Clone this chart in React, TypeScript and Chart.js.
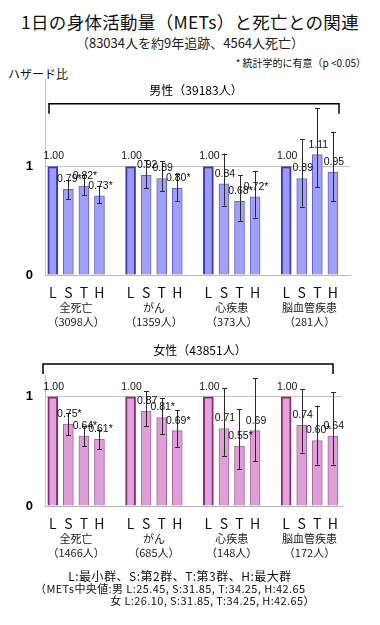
import React, { useEffect, useRef } from "react";
import { Chart, registerables } from "chart.js";
Chart.register(...registerables);

const tickLabels = ["L", "S", "T", "H"];
const causes = ["全死亡", "がん", "心疾患", "脳血管疾患"];

const menCounts = ["（3098人）", "（1359人）", "（373人）", "（281人）"];
const menHR = [1.0, 0.79, 0.82, 0.73, 1.0, 0.92, 0.89, 0.8, 1.0, 0.84, 0.68, 0.72, 1.0, 0.89, 1.11, 0.95];
const menLow = [null, 0.7, 0.74, 0.66, null, 0.8, 0.77, 0.68, null, 0.64, 0.5, 0.53, null, 0.63, 0.81, 0.68];
const menHigh = [null, 0.88, 0.92, 0.82, null, 1.06, 1.05, 0.93, null, 1.12, 0.92, 0.96, null, 1.25, 1.54, 1.32];
const menLabels = ["1.00", "0.79*", "0.82*", "0.73*", "1.00", "0.92", "0.89", "0.80*", "1.00", "0.84", "0.68*", "0.72*", "1.00", "0.89", "1.11", "0.95"];

const womenCounts = ["（1466人）", "（685人）", "（148人）", "（172人）"];
const womenHR = [1.0, 0.75, 0.64, 0.61, 1.0, 0.87, 0.81, 0.69, 1.0, 0.71, 0.55, 0.69, 1.0, 0.74, 0.6, 0.64];
const womenLow = [null, 0.65, 0.55, 0.52, null, 0.73, 0.66, 0.54, null, 0.46, 0.34, 0.41, null, 0.49, 0.38, 0.38];
const womenHigh = [null, 0.85, 0.73, 0.7, null, 1.05, 0.99, 0.88, null, 1.08, 0.89, 1.17, null, 1.07, 0.92, 1.04];
const womenLabels = ["1.00", "0.75*", "0.64*", "0.61*", "1.00", "0.87", "0.81*", "0.69*", "1.00", "0.71", "0.55*", "0.69", "1.00", "0.74", "0.60*", "0.64"];

const JP = "'Noto Sans CJK JP', 'Noto Sans', sans-serif";
const LAT = "'Liberation Sans', Arial, sans-serif";

type Spec = {
  hr: number[];
  low: (number | null)[];
  high: (number | null)[];
  labels: string[];
  counts: string[];
  fill: string;
  lFill: string;
  border: string;
  lBorder: string;
  yMax: number;
  xMax: number;
  padTop: number;
  padRight: number;
  xAxisH: number;
  title: string;
  titleX: number;
  titleDy: number;
  bracketDy: number;
  legLen: number;
  bracketL: number;
  bracketR: number;
};

function xPos(i: number) {
  return Math.floor(i / 4) * 5 + (i % 4);
}

function build(canvas: HTMLCanvasElement, s: Spec) {
  const pts = s.hr.map((v, i) => ({ x: xPos(i), y: v }));
  const tickVals = s.hr.map((_, i) => xPos(i));
  const deco = {
    id: "deco",
    afterDatasetsDraw(chart: any) {
      const ctx = chart.ctx;
      const xs = chart.scales.x;
      const ys = chart.scales.y;
      const ca = chart.chartArea;
      ctx.save();
      // error bars
      ctx.strokeStyle = "#2a2a2a";
      ctx.lineWidth = 1;
      s.hr.forEach((_, i) => {
        const lo = s.low[i];
        const hi = s.high[i];
        if (lo == null || hi == null) return;
        const x = Math.round(xs.getPixelForValue(xPos(i))) + 0.5;
        const y1 = ys.getPixelForValue(lo);
        const y2 = ys.getPixelForValue(hi);
        ctx.beginPath();
        ctx.moveTo(x, y1);
        ctx.lineTo(x, y2);
        ctx.moveTo(x - 2.5, Math.round(y1) + 0.5);
        ctx.lineTo(x + 2.5, Math.round(y1) + 0.5);
        ctx.moveTo(x - 2.5, Math.round(y2) + 0.5);
        ctx.lineTo(x + 2.5, Math.round(y2) + 0.5);
        ctx.stroke();
      });
      // value labels
      ctx.fillStyle = "#111";
      ctx.font = "10.5px " + LAT;
      ctx.textAlign = "center";
      ctx.textBaseline = "middle";
      s.hr.forEach((v, i) => {
        const x = xs.getPixelForValue(xPos(i));
        const y = ys.getPixelForValue(v) - 10;
        ctx.fillText(s.labels[i], x + 1, y);
      });
      // cause names and counts
      ctx.fillStyle = "#222";
      ctx.font = "11px " + JP;
      for (let g = 0; g < 4; g++) {
        const cx = xs.getPixelForValue(g * 5 + 1.5);
        ctx.fillText(causes[g], cx, ca.bottom + 33);
        ctx.fillText(s.counts[g], cx, ca.bottom + 47);
      }
      // bracket + sex title
      ctx.strokeStyle = "#000";
      ctx.lineWidth = 1.5;
      const by = ca.top + s.bracketDy;
      ctx.beginPath();
      ctx.moveTo(s.bracketL, by + s.legLen);
      ctx.lineTo(s.bracketL, by);
      ctx.lineTo(s.bracketR, by);
      ctx.lineTo(s.bracketR, by + s.legLen);
      ctx.stroke();
      ctx.fillStyle = "#000";
      ctx.font = "12px " + JP;
      ctx.fillText(s.title, s.titleX, ca.top + s.titleDy);
      ctx.restore();
    },
  };
  return new Chart(canvas, {
    type: "bar",
    data: {
      datasets: [
        {
          data: pts as any,
          backgroundColor: s.hr.map((_, i) => (i % 4 === 0 ? s.lFill : s.fill)),
          borderColor: s.hr.map((_, i) => (i % 4 === 0 ? s.lBorder : s.border)),
          borderWidth: s.hr.map((_, i) => (i % 4 === 0 ? 2 : 1)),
          barThickness: 10,
        },
      ],
    },
    options: {
      animation: false,
      responsive: false,
      maintainAspectRatio: false,
      layout: { padding: { top: s.padTop, right: s.padRight, left: 0, bottom: 0 } },
      plugins: { legend: { display: false }, tooltip: { enabled: false } },
      scales: {
        x: {
          type: "linear",
          offset: false,
          min: -0.5,
          max: s.xMax,
          grid: { display: false, drawTicks: false, offset: false },
          border: { display: true, color: "#b8b8b8" },
          afterBuildTicks: (sc: any) => {
            sc.ticks = tickVals.map((v) => ({ value: v }));
          },
          afterFit: (sc: any) => {
            sc.height = s.xAxisH;
          },
          ticks: {
            autoSkip: false,
            maxRotation: 0,
            padding: 9,
            color: "#111",
            font: { family: JP, size: 14 },
            callback: (v: any) => tickLabels[Math.round(v) % 5] ?? "",
          },
        },
        y: {
          min: 0,
          max: s.yMax,
          afterBuildTicks: (sc: any) => {
            sc.ticks = [{ value: 0 }, { value: 1 }];
          },
          afterFit: (sc: any) => {
            sc.width = 45;
          },
          grid: {
            drawTicks: false,
            color: (c: any) => (c.tick && c.tick.value === 1 ? "#c4c4c4" : "rgba(0,0,0,0)"),
          },
          border: { display: true, color: "#c4c4c4" },
          ticks: {
            padding: 12,
            color: "#000",
            font: { family: LAT, size: 13, weight: "bold" },
            callback: (v: any) => String(v),
          },
        },
      },
    },
    plugins: [deco],
  } as any);
}

export default function App() {
  const topRef = useRef<HTMLCanvasElement>(null);
  const botRef = useRef<HTMLCanvasElement>(null);
  useEffect(() => {
    const c1 = build(topRef.current!, {
      hr: menHR,
      low: menLow,
      high: menHigh,
      labels: menLabels,
      counts: menCounts,
      fill: "#a0a0f8",
      lFill: "#9b9bf5",
      border: "#6464c8",
      lBorder: "#3a3ab4",
      yMax: 1.8,
      xMax: 19.1,
      padTop: 18,
      padRight: 30,
      xAxisH: 65,
      title: "男性（39183人）",
      titleX: 196,
      titleDy: 11,
      bracketDy: 24,
      legLen: 10,
      bracketL: 49,
      bracketR: 339,
    });
    const c2 = build(botRef.current!, {
      hr: womenHR,
      low: womenLow,
      high: womenHigh,
      labels: womenLabels,
      counts: womenCounts,
      fill: "#dc9fd6",
      lFill: "#e2a4dc",
      border: "#a8649f",
      lBorder: "#8c2a80",
      yMax: 1.2,
      xMax: 18.59,
      padTop: 40,
      padRight: 38,
      xAxisH: 54,
      title: "女性（43851人）",
      titleX: 200,
      titleDy: -25,
      bracketDy: -11,
      legLen: 10,
      bracketL: 43,
      bracketR: 333,
    });
    return () => {
      c1.destroy();
      c2.destroy();
    };
  }, []);

  const abs = (o: React.CSSProperties): React.CSSProperties => ({ position: "absolute", whiteSpace: "nowrap", ...o });

  return (
    <div style={{ position: "fixed", left: 0, top: 0, width: 380, height: 625, background: "#fff", overflow: "hidden", fontFamily: JP, color: "#111" }}>
      <div style={abs({ left: 0, width: 380, top: 9, lineHeight: "26px", fontSize: 17.5, textAlign: "center", letterSpacing: 0.3 })}>
        1日の身体活動量（METs）と死亡との関連
      </div>
      <div style={abs({ left: 0, width: 380, top: 34, lineHeight: "18px", fontSize: 13, textAlign: "center", color: "#222" })}>
        （83034人を約9年追跡、4564人死亡）
      </div>
      <div style={abs({ right: 14, top: 56, lineHeight: "14px", fontSize: 10, textAlign: "right" })}>
        * 統計学的に有意（p &lt;0.05）
      </div>
      <div style={abs({ left: 8, top: 66, lineHeight: "16px", fontSize: 12 })}>ハザード比</div>
      <canvas ref={topRef} width={380} height={280} style={{ position: "absolute", left: 0, top: 60, width: 380, height: 280 }} />
      <canvas ref={botRef} width={380} height={225} style={{ position: "absolute", left: 0, top: 335, width: 380, height: 225 }} />
      <div style={abs({ left: 0, width: 360, top: 568, lineHeight: "16px", fontSize: 12, textAlign: "center", letterSpacing: 0.5 })}>
        L:最小群、S:第2群、T:第3群、H:最大群
      </div>
      <div style={abs({ left: 35, top: 581, lineHeight: "14px", fontSize: 11, letterSpacing: 0.4 })}>
        （METs中央値:男 L:25.45, S:31.85, T:34.25, H:42.65
      </div>
      <div style={abs({ right: 65, top: 593, lineHeight: "14px", fontSize: 11, textAlign: "right", letterSpacing: 0.4 })}>
        女 L:26.10, S:31.85, T:34.25, H:42.65）
      </div>
    </div>
  );
}
